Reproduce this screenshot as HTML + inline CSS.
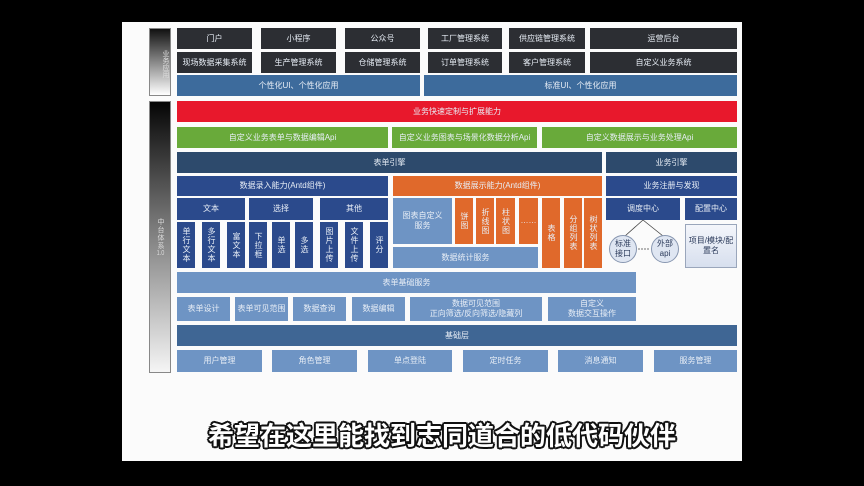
<!DOCTYPE html>
<html><head><meta charset="utf-8"><style>
body{margin:0;width:864px;height:486px;background:#000;position:relative;overflow:hidden;font-family:"Liberation Sans","Noto Sans CJK SC",sans-serif;}
.card{position:absolute;left:122px;top:22px;width:620px;height:439px;background:#fbfbfb;}
.b{position:absolute;display:flex;align-items:center;justify-content:center;text-align:center;color:#e8eef6;font-size:8px;line-height:10px;box-sizing:border-box;}
.k{background:#2c2e33;}
.bl{background:#3d6b9c;}
.nv{background:#2d4a6c;}
.db{background:#2b4a8c;}
.or{background:#e0692b;}
.lb{background:#6e94c4;}
.st{background:#3f6694;}
.v{writing-mode:vertical-rl;letter-spacing:1px;font-size:8px;}
.side{position:absolute;left:149px;width:22px;border:1px solid #888;box-sizing:border-box;color:#ddd;font-size:7px;line-height:10px;display:flex;justify-content:center;writing-mode:vertical-rl;text-orientation:upright;letter-spacing:1px;}
.circ{position:absolute;width:28px;height:28px;border-radius:50%;background:#dfe6f2;border:1px solid #8796b0;box-sizing:border-box;color:#2b3a5a;font-size:8px;line-height:10px;display:flex;align-items:center;justify-content:center;text-align:center;}
.sub{position:absolute;left:208px;top:416px;width:448px;text-align:center;font-size:26px;font-weight:bold;color:#fff;text-shadow:-1.5px -1.5px 0 #111,1.5px -1.5px 0 #111,-1.5px 1.5px 0 #111,1.5px 1.5px 0 #111,0 2px 0 #111,0 -2px 0 #111,2px 0 0 #111,-2px 0 0 #111;white-space:nowrap;}
</style></head><body>
<div class="card"></div>
<div class="side" style="top:28px;height:68px;background:linear-gradient(#111,#fff);padding-top:3px;letter-spacing:0;">业务应用</div>
<div class="side" style="top:101px;height:272px;background:linear-gradient(#050505,#777 45%,#f5f5f5);align-items:center;">中台体系<span style="text-combine-upright:all">1.0</span></div>

<div class="b k" style="left:177px;top:28px;width:75px;height:21px">门户</div>
<div class="b k" style="left:261px;top:28px;width:75px;height:21px">小程序</div>
<div class="b k" style="left:345px;top:28px;width:75px;height:21px">公众号</div>
<div class="b k" style="left:428px;top:28px;width:74px;height:21px">工厂管理系统</div>
<div class="b k" style="left:509px;top:28px;width:76px;height:21px">供应链管理系统</div>
<div class="b k" style="left:590px;top:28px;width:147px;height:21px">运营后台</div>
<div class="b k" style="left:177px;top:52px;width:75px;height:21px">现场数据采集系统</div>
<div class="b k" style="left:261px;top:52px;width:75px;height:21px">生产管理系统</div>
<div class="b k" style="left:345px;top:52px;width:75px;height:21px">仓储管理系统</div>
<div class="b k" style="left:428px;top:52px;width:74px;height:21px">订单管理系统</div>
<div class="b k" style="left:509px;top:52px;width:76px;height:21px">客户管理系统</div>
<div class="b k" style="left:590px;top:52px;width:147px;height:21px">自定义业务系统</div>
<div class="b bl" style="left:177px;top:75px;width:243px;height:21px">个性化UI、个性化应用</div>
<div class="b bl" style="left:424px;top:75px;width:313px;height:21px">标准UI、个性化应用</div>

<div class="b" style="left:177px;top:101px;width:560px;height:21px;background:#e8182c">业务快速定制与扩展能力</div>
<div class="b" style="left:177px;top:127px;width:211px;height:21px;background:#69aa3a">自定义业务表单与数据编辑Api</div>
<div class="b" style="left:392px;top:127px;width:145px;height:21px;background:#69aa3a">自定义业务图表与场景化数据分析Api</div>
<div class="b" style="left:542px;top:127px;width:195px;height:21px;background:#69aa3a">自定义数据展示与业务处理Api</div>
<div class="b nv" style="left:177px;top:152px;width:425px;height:21px">表单引擎</div>
<div class="b nv" style="left:606px;top:152px;width:131px;height:21px">业务引擎</div>
<div class="b db" style="left:177px;top:176px;width:211px;height:20px">数据录入能力(Antd组件)</div>
<div class="b or" style="left:393px;top:176px;width:209px;height:20px">数据展示能力(Antd组件)</div>
<div class="b db" style="left:606px;top:176px;width:131px;height:20px">业务注册与发现</div>

<div class="b db" style="left:177px;top:198px;width:68px;height:22px">文本</div>
<div class="b db" style="left:249px;top:198px;width:64px;height:22px">选择</div>
<div class="b db" style="left:320px;top:198px;width:68px;height:22px">其他</div>
<div class="b db v" style="left:177px;top:222px;width:18px;height:46px">单行文本</div>
<div class="b db v" style="left:202px;top:222px;width:18px;height:46px">多行文本</div>
<div class="b db v" style="left:227px;top:222px;width:18px;height:46px">富文本</div>
<div class="b db v" style="left:249px;top:222px;width:18px;height:46px">下拉框</div>
<div class="b db v" style="left:272px;top:222px;width:18px;height:46px">单选</div>
<div class="b db v" style="left:295px;top:222px;width:18px;height:46px">多选</div>
<div class="b db v" style="left:320px;top:222px;width:18px;height:46px">图片上传</div>
<div class="b db v" style="left:345px;top:222px;width:18px;height:46px">文件上传</div>
<div class="b db v" style="left:370px;top:222px;width:18px;height:46px">评分</div>

<div class="b lb" style="left:393px;top:198px;width:59px;height:46px">图表自定义<br>服务</div>
<div class="b or v" style="left:455px;top:198px;width:18px;height:46px">饼图</div>
<div class="b or v" style="left:476px;top:198px;width:18px;height:46px">折线图</div>
<div class="b or v" style="left:496px;top:198px;width:19px;height:46px">柱状图</div>
<div class="b or" style="left:519px;top:198px;width:19px;height:46px">……</div>
<div class="b or v" style="left:542px;top:198px;width:18px;height:70px">表格</div>
<div class="b or v" style="left:564px;top:198px;width:18px;height:70px">分组列表</div>
<div class="b or v" style="left:584px;top:198px;width:18px;height:70px">树状列表</div>
<div class="b lb" style="left:393px;top:247px;width:145px;height:21px">数据统计服务</div>

<div class="b db" style="left:606px;top:198px;width:74px;height:22px">调度中心</div>
<div class="b db" style="left:685px;top:198px;width:52px;height:22px">配置中心</div>
<svg style="position:absolute;left:600px;top:218px" width="90" height="50">
<line x1="43" y1="2" x2="25" y2="18" stroke="#444" stroke-width="0.8"/>
<line x1="43" y1="2" x2="63" y2="18" stroke="#444" stroke-width="0.8"/>
<line x1="38" y1="31" x2="50" y2="31" stroke="#444" stroke-width="0.8" stroke-dasharray="2,1"/>
</svg>
<div class="circ" style="left:609px;top:235px">标准<br>接口</div>
<div class="circ" style="left:651px;top:235px">外部<br>api</div>
<div class="b" style="left:685px;top:224px;width:52px;height:44px;background:linear-gradient(#f4f6fb,#d7dfee);border:1px solid #9aa6bb;color:#2b3a5a">项目/模块/配<br>置名</div>

<div class="b lb" style="left:177px;top:272px;width:459px;height:21px">表单基础服务</div>
<div class="b lb" style="left:177px;top:297px;width:53px;height:24px">表单设计</div>
<div class="b lb" style="left:235px;top:297px;width:53px;height:24px">表单可见范围</div>
<div class="b lb" style="left:293px;top:297px;width:53px;height:24px">数据查询</div>
<div class="b lb" style="left:352px;top:297px;width:53px;height:24px">数据编辑</div>
<div class="b lb" style="left:410px;top:297px;width:132px;height:24px">数据可见范围<br>正向筛选/反向筛选/隐藏列</div>
<div class="b lb" style="left:548px;top:297px;width:88px;height:24px">自定义<br>数据交互操作</div>
<div class="b st" style="left:177px;top:325px;width:560px;height:21px">基础层</div>
<div class="b lb" style="left:177px;top:350px;width:85px;height:22px">用户管理</div>
<div class="b lb" style="left:272px;top:350px;width:85px;height:22px">角色管理</div>
<div class="b lb" style="left:368px;top:350px;width:84px;height:22px">单点登陆</div>
<div class="b lb" style="left:463px;top:350px;width:85px;height:22px">定时任务</div>
<div class="b lb" style="left:558px;top:350px;width:85px;height:22px">消息通知</div>
<div class="b lb" style="left:654px;top:350px;width:83px;height:22px">服务管理</div>

<div class="sub">希望在这里能找到志同道合的低代码伙伴</div>
</body></html>
